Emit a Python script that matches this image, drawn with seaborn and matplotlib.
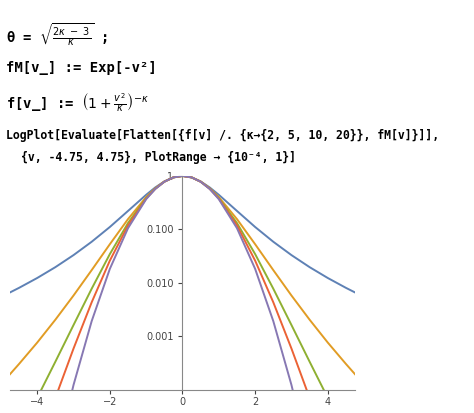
import numpy as np
import pandas as pd
import matplotlib
matplotlib.use("Agg")
import matplotlib.pyplot as plt
import seaborn as sns

v_half = [0, 0.25, 0.5, 0.75, 1, 1.5, 2, 2.5, 3, 3.5, 4, 4.5, 4.75]
k2 = [1, 0.9403, 0.790, 0.609, 0.444, 0.2215, 0.111, 0.0588, 0.0331, 0.0197, 0.01235, 0.00808, 0.00663]
k5 = [1, 0.9397, 0.7835, 0.5868, 0.4019, 0.156, 0.0529, 0.01734, 0.00581, 0.00205, 0.000766, 0.000305, 0.000196]
k10 = [1, 0.9396, 0.781, 0.5785, 0.3855, 0.1315, 0.0346, 0.00779, 0.00163, 0.000336, 7.08e-5, None, None]
k20 = [1, 0.9395, 0.780, 0.5742, 0.3769, 0.1186, 0.0261, 0.00434, 0.000592, 7.07e-5, None, None, None]
fm = [1, 0.9394, 0.7788, 0.5698, 0.3679, 0.1054, 0.0183, 0.00193, 1.234e-4, 4.8e-6, None, None, None]
series = {"κ=2": k2, "κ=5": k5, "κ=10": k10, "κ=20": k20, "fM": fm}
colors = ["#5E81B5", "#E19C24", "#8FB032", "#EB6235", "#8778B3"]

rows = []
for name, vals in series.items():
    pts = [(-x, y) for x, y in zip(v_half[::-1], vals[::-1])] + [(x, y) for x, y in zip(v_half[1:], vals[1:])]
    for x, y in pts:
        if y is not None:
            rows.append((name, x, y))
df = pd.DataFrame(rows, columns=["s", "v", "f"])

fig = plt.figure(figsize=(4.74, 4.13), dpi=100)
ax = fig.add_axes([0.021, 0.056, 0.728, 0.518])
sns.lineplot(data=df, x="v", y="f", hue="s", palette=colors, ax=ax, legend=False,
             linewidth=1.4, sort=False)
ax.set_yscale("log")
ax.set_ylim(1e-4, 1)
ax.set_xlim(-4.75, 4.75)
ax.set_xlabel(""); ax.set_ylabel("")
for s in ["top", "right"]:
    ax.spines[s].set_visible(False)
ax.spines["left"].set_position(("data", 0))
for s in ["left", "bottom"]:
    ax.spines[s].set_color("#888888")
ax.set_yticks([1, 0.1, 0.01, 0.001])
ax.set_yticklabels(["1", "0.100", "0.010", "0.001"])
ax.yaxis.set_minor_locator(matplotlib.ticker.NullLocator())
ax.set_xticks([-4, -2, 0, 2, 4])
ax.set_xticklabels(["−4", "−2", "0", "2", "4"])
ax.tick_params(labelsize=7, colors="#444444", length=3)
ax.tick_params(axis="x", pad=2)

mono = dict(family="DejaVu Sans Mono", fontweight="bold", fontsize=10)
fig.text(0.012, 1 - 35/413, r"θ = $\sqrt{\frac{2\kappa\ -\ 3}{\kappa}}$ ;", va="center", **mono)
fig.text(0.012, 1 - 68/413, "fM[v_] := Exp[-v²]", va="center", **mono)
fig.text(0.012, 1 - 103/413, r"f[v_] := $\left(1+\frac{v^2}{\kappa}\right)^{-\kappa}$", va="center", **mono)
fig.text(0.012, 1 - 136/413, "LogPlot[Evaluate[Flatten[{f[v] /. {κ→{2, 5, 10, 20}}, fM[v]}]],", va="center",
         family="DejaVu Sans Mono", fontweight="bold", fontsize=8.3)
fig.text(0.045, 1 - 157/413, "{v, -4.75, 4.75}, PlotRange → {10⁻⁴, 1}]", va="center",
         family="DejaVu Sans Mono", fontweight="bold", fontsize=8.3)
fig.savefig("out.png", dpi=100)
